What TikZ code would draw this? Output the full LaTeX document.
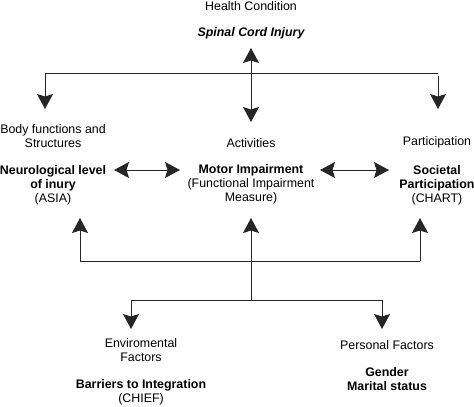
\documentclass[tikz,border=0pt]{standalone}
\usepackage{fontspec}
\setmainfont{Liberation Sans}
\usetikzlibrary{arrows.meta}
\begin{document}
\begin{tikzpicture}[x=1bp,y=-1bp,
  txt/.style={font=\fontsize{12.4bp}{14bp}\selectfont, align=center, inner sep=0pt},
  ln/.style={line width=1bp, draw=black!85},
  arr/.style={ln, -{Stealth[length=15bp,width=16bp,inset=2.5bp]}},
  darr/.style={ln, {Stealth[length=15bp,width=16bp,inset=2.5bp]}-{Stealth[length=15bp,width=16bp,inset=2.5bp]}}]
\useasboundingbox (0,0) rectangle (474,406);
% texts
\node[txt] (health) at (251,6) {Health Condition};
\node[txt, font=\fontsize{12.4bp}{14bp}\selectfont\bfseries\itshape] (sci) at (251,33) {Spinal Cord Injury};
\node[txt] (body) at (53,136) {Body functions and\\Structures};
\node[txt] (neuro) at (53,185) {\textbf{Neurological level}\\\textbf{of inury}\\(ASIA)};
\node[txt] (act) at (251,143) {Activities};
\node[txt] (motor) at (251,184) {\textbf{Motor Impairment}\\(Functional Impairment\\Measure)};
\node[txt] (part) at (437,142) {Participation};
\node[txt] (soc) at (437,185) {\textbf{Societal}\\\textbf{Participation}\\(CHART)};
\node[txt] (env) at (141,350) {Enviromental\\Factors};
\node[txt] (barr) at (141,392) {\textbf{Barriers to Integration}\\(CHIEF)};
\node[txt] (pers) at (387,345) {Personal Factors};
\node[txt] (gend) at (387,379) {\textbf{Gender}\\\textbf{Marital status}};
% coordinates
\coordinate (tTop) at (251,48);
\coordinate (tBot) at (251,122);
\coordinate (hL) at (45,73);
\coordinate (hR) at (438,73);
\coordinate (hR2) at (438,76);
\coordinate (tL) at (45,109);
\coordinate (tR) at (438,109);
\coordinate (nmL) at (114,170);
\coordinate (nmR) at (180,170);
\coordinate (msL) at (320,170);
\coordinate (msR) at (389,170);
\coordinate (uL) at (80,218);
\coordinate (uM) at (251,218);
\coordinate (uR) at (420,218);
\coordinate (bL) at (80,261);
\coordinate (bR) at (420,261);
\coordinate (bM) at (251,300);
\coordinate (fL) at (131,300);
\coordinate (fR) at (382,300);
\coordinate (dL) at (131,329);
\coordinate (dR) at (382,329);
% connectors
\draw[darr] (tTop) -- (tBot);
\draw[ln] (hL) -- (hR);
\draw[arr] (hL) -- (tL);
\draw[arr] (hR2) -- (tR);
\draw[darr] (nmL) -- (nmR);
\draw[darr] (msL) -- (msR);
\draw[arr] (bL) -- (uL);
\draw[arr] (bR) -- (uR);
\draw[ln] (bL) -- (bR);
\draw[arr] (bM) -- (uM);
\draw[ln] (fL) -- (fR);
\draw[arr] (fL) -- (dL);
\draw[arr] (fR) -- (dR);
\end{tikzpicture}
\end{document}
